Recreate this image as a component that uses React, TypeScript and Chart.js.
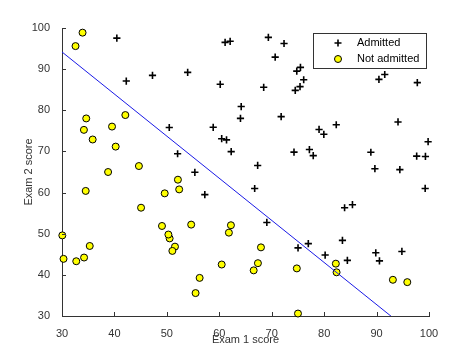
import React, { useEffect, useRef } from "react";
import { Chart, registerables } from "chart.js";

Chart.register(...registerables);

const admittedX = [60.18, 79.03, 61.11, 75.02, 76.10, 84.43, 82.31, 69.36, 53.97, 69.07, 70.66, 76.98, 89.68, 77.92, 62.27, 80.19, 61.38, 85.40, 52.05, 64.18, 83.90, 94.44, 77.19, 97.77, 62.07, 91.56, 79.94, 99.27, 90.55, 97.65, 74.25, 71.80, 75.40, 40.46, 80.28, 66.75, 64.04, 72.35, 60.46, 58.84, 99.83, 47.26, 50.46, 88.91, 94.83, 67.32, 57.24, 80.37, 68.47, 75.48, 78.64, 94.09, 90.45, 74.49, 89.85, 83.49, 42.26, 99.32, 55.34, 74.78];
const admittedY = [86.31, 75.34, 96.51, 46.55, 87.42, 43.53, 76.48, 97.72, 89.21, 52.74, 92.93, 47.58, 65.80, 68.97, 69.95, 44.82, 72.81, 57.05, 69.43, 80.91, 56.31, 65.57, 70.46, 86.73, 96.77, 88.70, 74.16, 61.00, 43.39, 68.86, 69.82, 78.45, 85.76, 97.54, 92.12, 60.99, 78.03, 96.23, 73.09, 75.86, 72.37, 88.48, 75.81, 69.80, 45.69, 66.59, 59.51, 90.96, 85.59, 90.42, 96.65, 77.16, 87.51, 84.85, 45.36, 48.38, 87.10, 68.78, 64.93, 89.53];

const notAdmittedX = [34.62, 30.29, 35.85, 45.08, 95.86, 75.01, 39.54, 67.95, 67.37, 50.53, 34.21, 93.11, 61.83, 38.79, 52.11, 40.24, 54.64, 33.92, 74.79, 34.18, 51.55, 82.37, 51.05, 62.22, 34.52, 50.29, 49.59, 32.58, 35.29, 56.25, 30.06, 44.67, 66.56, 49.07, 32.72, 60.46, 82.23, 42.08, 52.35, 55.48];
const notAdmittedY = [78.02, 43.89, 72.90, 56.32, 38.23, 30.60, 76.04, 46.68, 42.84, 48.86, 44.21, 38.80, 50.26, 65.00, 63.13, 71.17, 52.21, 98.87, 41.57, 75.24, 46.86, 40.62, 45.82, 52.06, 60.40, 49.80, 59.81, 95.60, 47.02, 39.26, 49.59, 66.45, 41.09, 51.88, 43.31, 42.51, 42.72, 78.84, 60.77, 35.57];

const boundaryX = [28.06, 101.83];
const boundaryY = [96.16, 20.67];

const tickValues = [30, 40, 50, 60, 70, 80, 90, 100];
const legendLabels = ["Admitted", "Not admitted"];
const axisTitles = ["Exam 1 score", "Exam 2 score"];

const FONT = "'Liberation Sans', Arial, sans-serif";
const AXIS_COLOR = "#333333";

const zip = (xs: number[], ys: number[]) => xs.map((x, i) => ({ x, y: ys[i] }));

const innerTicks = {
  id: "innerTicks",
  afterDraw(chart: any) {
    const { ctx, chartArea, scales } = chart;
    ctx.save();
    ctx.strokeStyle = AXIS_COLOR;
    ctx.lineWidth = 1;
    ctx.beginPath();
    tickValues.forEach((v) => {
      const px = Math.round(scales.x.getPixelForValue(v)) + 0.5;
      ctx.moveTo(px, chartArea.bottom);
      ctx.lineTo(px, chartArea.bottom - 4);
      const py = Math.round(scales.y.getPixelForValue(v)) + 0.5;
      ctx.moveTo(chartArea.left, py);
      ctx.lineTo(chartArea.left + 4, py);
    });
    ctx.stroke();
    ctx.restore();
  },
};

const boxLegend = {
  id: "boxLegend",
  afterDraw(chart: any) {
    const { ctx } = chart;
    const x0 = 313.5, y0 = 33.5, w = 113, h = 35;
    ctx.save();
    ctx.fillStyle = "#ffffff";
    ctx.fillRect(x0, y0, w, h);
    ctx.strokeStyle = AXIS_COLOR;
    ctx.lineWidth = 1;
    ctx.strokeRect(x0, y0, w, h);
    const mx = 338, r1 = 43, r2 = 59;
    ctx.strokeStyle = "#000000";
    ctx.lineWidth = 1.6;
    ctx.beginPath();
    ctx.moveTo(mx - 3.5, r1);
    ctx.lineTo(mx + 3.5, r1);
    ctx.moveTo(mx, r1 - 3.5);
    ctx.lineTo(mx, r1 + 3.5);
    ctx.stroke();
    ctx.beginPath();
    ctx.arc(mx, r2, 3.5, 0, Math.PI * 2);
    ctx.fillStyle = "#ffff00";
    ctx.fill();
    ctx.lineWidth = 1;
    ctx.stroke();
    ctx.fillStyle = "#000000";
    ctx.font = `11px ${FONT}`;
    ctx.textBaseline = "middle";
    ctx.textAlign = "left";
    ctx.fillText(legendLabels[0], 357, r1);
    ctx.fillText(legendLabels[1], 357, r2);
    ctx.restore();
  },
};

export default function App() {
  const ref = useRef<HTMLCanvasElement | null>(null);
  useEffect(() => {
    if (!ref.current) return;
    const chart = new Chart(ref.current, {
      type: "scatter",
      data: {
        datasets: [
          {
            label: "Decision Boundary",
            data: zip(boundaryX, boundaryY),
            showLine: true,
            borderColor: "#1a1ae6",
            borderWidth: 1,
            pointRadius: 0,
            fill: false,
          } as any,
          {
            label: legendLabels[0],
            data: zip(admittedX, admittedY),
            pointStyle: "cross",
            pointRadius: 3.6,
            borderColor: "#000000",
            backgroundColor: "#000000",
            borderWidth: 1.6,
            clip: false,
          } as any,
          {
            label: legendLabels[1],
            data: zip(notAdmittedX, notAdmittedY),
            pointStyle: "circle",
            pointRadius: 3.5,
            borderColor: "#000000",
            backgroundColor: "#ffff00",
            borderWidth: 1,
            clip: false,
          } as any,
        ],
      },
      options: {
        animation: false,
        responsive: false,
        layout: { padding: { top: 28, right: 45, left: 0, bottom: 0 } },
        plugins: { legend: { display: false }, tooltip: { enabled: false } },
        scales: {
          x: {
            type: "linear",
            min: 30,
            max: 100,
            afterFit: (s: any) => { s.height = 39; },
            afterBuildTicks: (s: any) => { s.ticks = tickValues.map((v) => ({ value: v })); },
            grid: { display: false },
            border: { display: true, color: AXIS_COLOR, width: 1 },
            ticks: { color: AXIS_COLOR, font: { family: FONT, size: 11 }, padding: 3, maxRotation: 0 },
            title: { display: true, text: axisTitles[0], color: AXIS_COLOR, font: { family: FONT, size: 11 }, padding: { top: 0, bottom: 8 } },
          },
          y: {
            type: "linear",
            min: 30,
            max: 100,
            afterFit: (s: any) => { s.width = 62; },
            afterBuildTicks: (s: any) => { s.ticks = tickValues.map((v) => ({ value: v })); },
            grid: { display: false },
            border: { display: true, color: AXIS_COLOR, width: 1 },
            ticks: { color: AXIS_COLOR, font: { family: FONT, size: 11 }, padding: 4 },
            title: { display: true, text: axisTitles[1], color: AXIS_COLOR, font: { family: FONT, size: 11 }, padding: { top: 22, bottom: 0 } },
          },
        },
      } as any,
      plugins: [innerTicks, boxLegend],
    });
    return () => chart.destroy();
  }, []);
  return (
    <div style={{ position: "absolute", left: 0, top: 0, width: 474, height: 355, background: "#ffffff" }}>
      <canvas ref={ref} width={474} height={355} style={{ display: "block" }} />
    </div>
  );
}
